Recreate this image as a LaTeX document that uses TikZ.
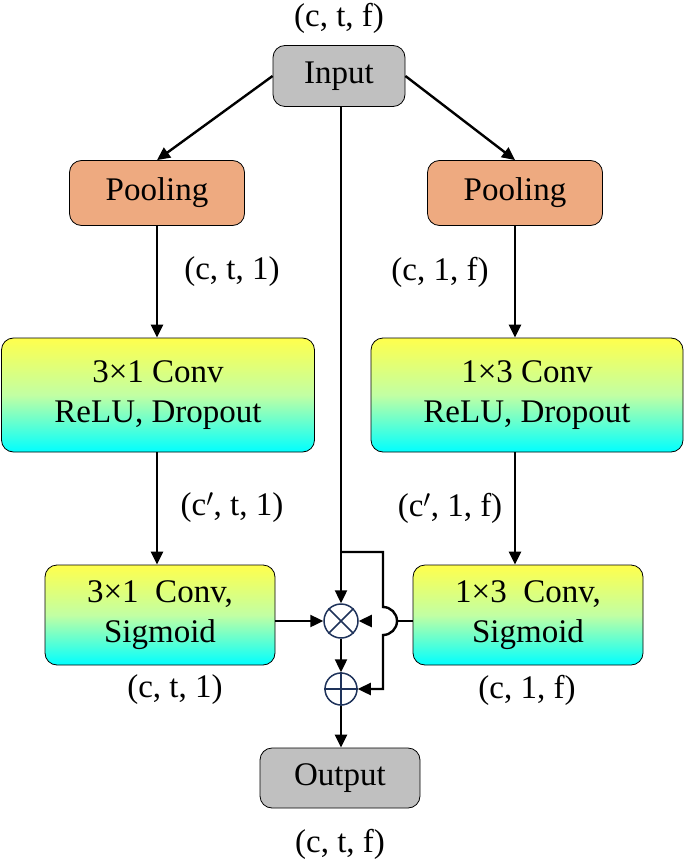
\documentclass[tikz,border=0pt]{standalone}
\usepackage{fontspec}
\setmainfont{Liberation Serif}
\usetikzlibrary{arrows.meta,shapes.misc}
\definecolor{poolc}{RGB}{238,170,128}
\definecolor{grayc}{RGB}{192,192,192}
\definecolor{opc}{RGB}{30,50,90}
\tikzset{
  box/.style={draw=black, line width=0.8pt, rounded corners=12pt, align=center, inner sep=0pt},
  gbox/.style={box, fill=grayc},
  pbox/.style={box, fill=poolc},
  cbox/.style={box, top color=yellow!70!white, bottom color=cyan, middle color=cyan!40!yellow!60!white},
  op/.style={circle, draw=opc, line width=1.5pt, minimum size=34pt, inner sep=0pt},
  arr/.style={-{Triangle[length=13pt,width=12pt]}, line width=2.4pt},
  lbl/.style={font=\fontsize{33}{40}\selectfont},
}
\begin{document}
\begin{tikzpicture}[x=1pt,y=-1pt, lbl]
\useasboundingbox (0,0) rectangle (685,866);
\node[gbox, minimum width=132pt, minimum height=61pt] (in) at (339,76) {Input};
\node[pbox, minimum width=175pt, minimum height=65pt] (pl) at (157,193) {Pooling};
\node[pbox, minimum width=175pt, minimum height=65pt] (pr) at (515,193) {Pooling};
\node[cbox, minimum width=313pt, minimum height=114pt] (cl) at (158,395) {3\texttimes1 Conv\\ReLU, Dropout};
\node[cbox, minimum width=312pt, minimum height=114pt] (cr) at (527,395) {1\texttimes3 Conv\\ReLU, Dropout};
\node[cbox, minimum width=230pt, minimum height=100pt] (sl) at (160,615) {3\texttimes1\ \ Conv,\\Sigmoid};
\node[cbox, minimum width=230pt, minimum height=100pt] (sr) at (528,615) {1\texttimes3\ \ Conv,\\Sigmoid};
\node[gbox, minimum width=160pt, minimum height=60pt] (out) at (340,778) {Output};
\node[op] (mul) at (341,621) {};
\draw[opc, line width=1.5pt] (mul.north west) -- (mul.south east) (mul.north east) -- (mul.south west);
\node[op, minimum size=32pt] (add) at (341,689) {};
\draw[opc, line width=1.5pt] (add.north) -- (add.south) (add.west) -- (add.east);
% labels
\node (t0) at (339,18) {(c, t, f)};
\node (t1) at (232,272) {(c, t, 1)};
\node (t2) at (440,272) {(c, 1, f)};
\node (t3) at (232,508) {(c$'$, t, 1)};
\node (t4) at (450,508) {(c$'$, 1, f)};
\node (t5) at (175,690) {(c, t, 1)};
\node (t6) at (527,690) {(c, 1, f)};
\node (t7) at (340,844) {(c, t, f)};
% connectors
\draw[arr] (in.west) -- (pl.north);
\draw[arr] (in.east) -- (pr.north);
\draw[arr] (pl) -- (pl |- cl.north);
\draw[arr] (pr) -- (pr |- cr.north);
\draw[arr] (pl |- cl.south) -- (pl |- sl.north);
\draw[arr] (pr |- cr.south) -- (pr |- sr.north);
\draw[arr] (in.south -| mul) -- (mul);
\draw[arr] (sl.east |- mul) -- (mul);
\draw[line width=2.4pt] (sr.west |- mul) -- (397,621);
\draw[arr] (369,621) -- (mul);
\draw[arr] (mul) -- (add);
\draw[arr] (add) -- (add |- out.north);
\coordinate (b1) at (341,552);
\coordinate (b2) at (383,552);
\draw[arr] (b1) -- (b2) -- (383,607) arc[start angle=-90, end angle=90, radius=14] -- (383,689) -- (add);
\end{tikzpicture}
\end{document}
